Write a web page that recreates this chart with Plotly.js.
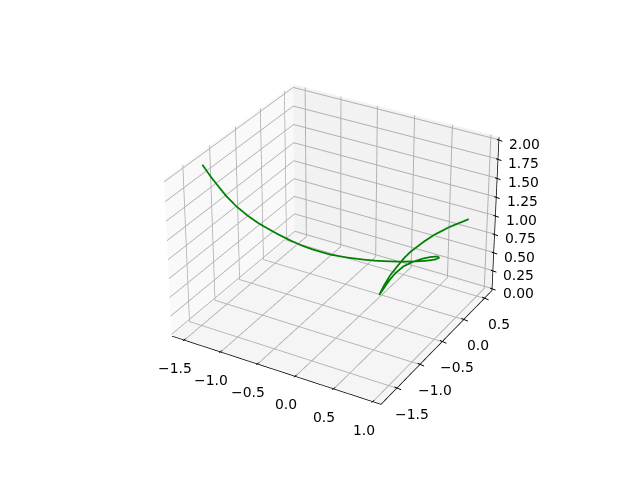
<!DOCTYPE html>
<html><head><meta charset="utf-8">
<script src="https://cdn.plot.ly/plotly-3.0.1.min.js"></script>
<style>html,body{margin:0;padding:0;width:640px;height:480px;overflow:hidden;background:#fff}
#plot{position:absolute;left:-500px;top:-598px;width:1670px;height:1670px}</style>
</head><body><div id="plot"></div>
<script>
const curveX=[0.868,0.598,0.418,0.301,0.173,0.12,0.083,0.017,-0.014,-0.002,-0.001,0.011,0.041,0.089,0.172,0.278,0.373,0.478,0.544,0.547,0.491,0.396,0.286,0.204,0.088,-0.013,-0.158,-0.313,-0.487,-0.6,-0.718,-0.82,-0.905,-1.053,-1.169,-1.289,-1.396,-1.477,-1.524,-1.525];
const curveY=[0.474,0.501,0.466,0.438,0.359,0.312,0.239,0.168,0.062,-0.051,0.062,0.155,0.241,0.342,0.405,0.455,0.475,0.456,0.39,0.292,0.158,0.021,-0.111,-0.199,-0.299,-0.396,-0.513,-0.629,-0.711,-0.765,-0.828,-0.872,-0.905,-0.958,-1.001,-1.053,-1.088,-1.119,-1.192,-1.339];
const curveZ=[1,0.8,0.66,0.55,0.42,0.35,0.28,0.16,0.05,0,0.04,0.09,0.15,0.2,0.25,0.3,0.34,0.39,0.43,0.46,0.5,0.54,0.58,0.61,0.64,0.68,0.73,0.79,0.85,0.9,0.97,1.03,1.08,1.17,1.26,1.38,1.5,1.62,1.77,2];
const xTicks=[-1.5,-1,-0.5,0,0.5,1];
const xLabels=['−1.5','−1.0','−0.5','0.0','0.5','1.0'];
const yTicks=[-1.5,-1,-0.5,0,0.5];
const yLabels=['−1.5','−1.0','−0.5','0.0','0.5'];
const zTicks=[0,0.25,0.5,0.75,1,1.25,1.5,1.75,2];
const zLabels=['0.00','0.25','0.50','0.75','1.00','1.25','1.50','1.75','2.00'];
const xRange=[-1.67,1.11],yRange=[-1.84,0.685],zRange=[-0.03,2.04];
const font={family:'DejaVu Sans',size:13.9,color:'#000'};
const e=0.004;
const x0=xRange[0]+e,xEdge=xRange[1]-e,yEdge0=yRange[0]+e,yEdge1=yRange[1]-e,zEdge=zRange[0]+e,zTop=zRange[1]-e;
const ann=[];
const tick=(x,y,z,ax,ay,xs,ys)=>ann.push({x,y,z,text:' ',font:{size:1},showarrow:true,arrowhead:0,arrowwidth:1,arrowcolor:'#000',ax,ay,xshift:xs,yshift:ys,standoff:0,borderpad:0});
xTicks.forEach((v,i)=>{ann.push({x:v,y:yEdge0,z:zEdge,text:xLabels[i],showarrow:false,font,xshift:-9,yshift:-28});tick(v,yEdge0,zEdge,-3,3,1.5,1.5);});
yTicks.forEach((v,i)=>{ann.push({x:xEdge,y:v,z:zEdge,text:yLabels[i],showarrow:false,font,xshift:14.5,yshift:-26});tick(xEdge,v,zEdge,7,3,-2.5,1);});
zTicks.forEach((v,i)=>{ann.push({x:xEdge,y:yEdge1,z:v,text:zLabels[i],showarrow:false,font,xshift:26,yshift:-4});tick(xEdge,yEdge1,v,6,2,-2,0.5);});
const axX=[x0,xEdge,xEdge,xEdge],axY=[yEdge0,yEdge0,yEdge1,yEdge1],axZ=[zEdge,zEdge,zEdge,zTop];
function ax(range,vals,bg){return {range,tickvals:vals,autorange:false,showticklabels:false,ticks:'',
 showline:false,gridcolor:'#b0b0b0',gridwidth:2,zeroline:false,showbackground:true,backgroundcolor:bg,title:{text:''},showspikes:false};}
const d=8.4;
Plotly.newPlot('plot',[
 {type:'scatter3d',mode:'lines',x:axX,y:axY,z:axZ,line:{color:'#000',width:1.5},hoverinfo:'skip'},
 {type:'scatter3d',mode:'lines',x:curveX,y:curveY,z:curveZ,line:{color:'#008000',width:3.5},hoverinfo:'skip'}],
{width:1670,height:1670,margin:{l:0,r:0,t:0,b:0},paper_bgcolor:'#fff',showlegend:false,
 scene:{domain:{x:[0,1],y:[0,1]},aspectmode:'manual',aspectratio:{x:1,y:1,z:0.75},
  camera:{eye:{x:0.433*d,y:-0.75*d,z:0.5*d},center:{x:0,y:0,z:0},up:{x:0,y:0,z:1},projection:{type:'perspective'}},
  xaxis:ax(xRange,xTicks,'#f9f9f9'),yaxis:ax(yRange,yTicks,'#f2f2f2'),zaxis:ax(zRange,zTicks,'#f5f5f5'),annotations:ann}},
{displayModeBar:false});
</script></body></html>
